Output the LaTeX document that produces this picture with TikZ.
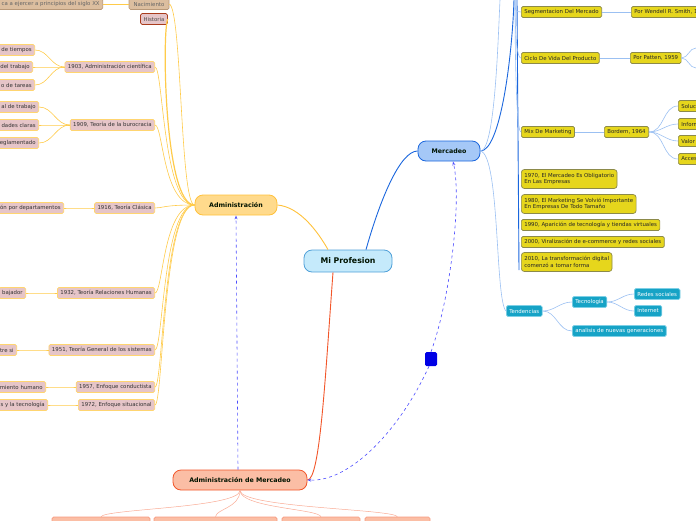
\documentclass[tikz,border=0pt]{standalone}
\usepackage{fontspec}
\setmainfont{DejaVu Sans}
\usetikzlibrary{arrows.meta,calc}
\definecolor{admF}{HTML}{FFDA8C}\definecolor{admD}{HTML}{FFC13A}
\definecolor{leafF}{HTML}{E6C5C8}\definecolor{leafD}{HTML}{FFD570}
\definecolor{nacF}{HTML}{DCBE9F}\definecolor{nacD}{HTML}{B89878}
\definecolor{merF}{HTML}{A5C8F7}\definecolor{merD}{HTML}{1A66DD}
\definecolor{ylF}{HTML}{E6D61C}\definecolor{ylD}{HTML}{8C8A4A}
\definecolor{tlF}{HTML}{16A3C6}\definecolor{tlD}{HTML}{7FD0E6}
\definecolor{saF}{HTML}{FBBEA5}\definecolor{saD}{HTML}{F2562A}
\definecolor{mpF}{HTML}{C5EAFB}\definecolor{mpD}{HTML}{4FA0D8}
\definecolor{lnY}{HTML}{FFCB4A}\definecolor{lnB}{HTML}{9BC0F2}
\tikzset{
 tx/.style={font=\fontsize{5.4}{6.4}\selectfont,inner xsep=3pt,inner ysep=0pt,minimum height=11pt,rounded corners=1.5pt,line width=0.7pt},
 leaf/.style={tx,fill=leafF,draw=leafD,text=black!80},
 nac/.style={tx,fill=nacF,draw=nacD,text=black!60},
 hist/.style={tx,fill=leafF,draw=saD!70!black,text=black!70},
 yb/.style={tx,fill=ylF,draw=ylD,text=black!85},
 yb2/.style={yb,align=left,minimum height=19pt,rounded corners=3pt},
 tl/.style={tx,fill=tlF,draw=tlD,text=white},
 big/.style={font=\bfseries\fontsize{6.3}{7.5}\selectfont,rounded corners=8pt,minimum height=20pt,line width=0.8pt,text=black!75!green!30!black},
 yl/.style={lnY,line width=0.6pt},
 bl/.style={lnB,line width=0.6pt},
 dsh/.style={blue!70,dashed,line width=0.6pt,-{Stealth[length=4pt,open]}},
}
\begin{document}
\begin{tikzpicture}[x=1pt,y=-1pt]
\useasboundingbox (0,0) rectangle (696,520);
\clip (0,0) rectangle (696,520);
\node[big,fill=mpF,draw=mpD,font=\bfseries\fontsize{7.8}{9}\selectfont,minimum width=88pt,minimum height=22pt] (mp) at (348,261) {Mi Profesion};
\node[big,fill=admF,draw=admD,minimum width=82pt] (adm) at (236,205) {Administración};
\node[big,fill=merF,draw=merD,minimum width=62pt] (mer) at (449,151) {Mercadeo};
\node[big,fill=saF,draw=saD,minimum width=134pt] (am) at (240,480) {Administración de Mercadeo};
\node[fill=blue!90!black,rounded corners=1.5pt,minimum width=12pt,minimum height=14pt,inner sep=0] (sq) at (431,359) {};
\node[nac,anchor=east] (nacl) at (103,4) {ca a ejercer a principios del siglo XX};
\node[nac,minimum width=40pt] (nac) at (149,4) {Nacimiento};
\node[hist] (his) at (154,19) {Historia};
\node[leaf,anchor=east] (h1) at (155,67) {1903, Administración científica};
\node[leaf,anchor=east] (h1a) at (35,50) {de tiempos};
\node[leaf,anchor=east] (h1b) at (33,67) {del trabajo};
\node[leaf,anchor=east] (h1c) at (35,85) {o de tareas};
\node[leaf,anchor=east] (h2) at (155,125) {1909, Teoría de la burocracia};
\node[leaf,anchor=east] (h2a) at (39,107) {al de trabajo};
\node[leaf,anchor=east] (h2b) at (39,125) {dades claras};
\node[leaf,anchor=east] (h2c) at (39,143) {eglamentado};
\node[leaf,anchor=east] (h3) at (155,208) {1916, Teoría Clásica};
\node[leaf,anchor=east] (h3a) at (64,208) {ón por departamentos};
\node[leaf,anchor=east] (h4) at (155,293) {1932, Teoría Relaciones Humanas};
\node[leaf,anchor=east] (h4a) at (26,293) {bajador};
\node[leaf,anchor=east] (h5) at (155,350) {1951, Teoría General de los sistemas};
\node[leaf,anchor=east] (h5a) at (17,350) {tre si};
\node[leaf,anchor=east] (h6) at (155,387) {1957, Enfoque conductista};
\node[leaf,anchor=east] (h6a) at (46,387) {miento humano};
\node[leaf,anchor=east] (h7) at (155,405) {1972, Enfoque situacional};
\node[leaf,anchor=east] (h7a) at (48,405) {s y la tecnología};
\draw[yl] (nacl) -- (nac);
\draw[yl] (adm.west) .. controls (180,205) and (182,10) .. (nac.east);
\draw[yl,line width=1.2pt] (adm.west) .. controls (164,205) and (162,30) .. (his.east);
\foreach \n in {h1,h2,h3,h4,h5,h6,h7}{
 \path (\n.east) ++(8,0) coordinate (t);
 \draw[yl] (adm.west) .. controls (163,205) and (t) .. (\n.east);}
\foreach \a/\b in {h1/h1a,h1/h1b,h1/h1c,h2/h2a,h2/h2b,h2/h2c,h3/h3a,h4/h4a,h5/h5a,h6/h6a,h7/h7a}{
 \draw[yl] (\a.west) to[out=180,in=0] (\b.east);}
\node[yb,anchor=west] (seg) at (521,12) {Segmentacion Del Mercado};
\node[yb,anchor=west] (segw) at (631,12) {Por Wendell R. Smith, 1956};
\node[yb,anchor=west] (cic) at (521,58) {Ciclo De Vida Del Producto};
\node[yb,anchor=west] (pat) at (630,58) {Por Patten, 1959};
\coordinate (pa1) at (696,48); \coordinate (pa2) at (696,68);
\node[yb,anchor=west] (mix) at (521,132) {Mix De Marketing};
\node[yb,anchor=west] (bor) at (604,132) {Bordem, 1964};
\node[yb,anchor=west] (b1) at (678,106) {Soluciones};
\node[yb,anchor=west] (b2) at (678,124) {Información};
\node[yb,anchor=west] (b3) at (678,141) {Valor};
\node[yb,anchor=west] (b4) at (678,159) {Acceso};
\node[yb2,anchor=west] (y70) at (521,179) {1970, El Mercadeo Es Obligatorio\\En Las Empresas};
\node[yb2,anchor=west] (y80) at (521,204) {1980, El Marketing Se Volvió Importante\\En Empresas De Todo Tamaño};
\node[yb,anchor=west] (y90) at (521,225) {1990, Aparición de tecnología y tiendas virtuales};
\node[yb,anchor=west] (y00) at (521,242) {2000, Viralización de e-commerce y redes sociales};
\node[yb2,anchor=west] (y10) at (521,262) {2010, La transformación digital\\comenzó a tomar forma};
\node[tl,anchor=west] (ten) at (506,311) {Tendencias};
\node[tl,anchor=west] (tec) at (572,302) {Tecnología};
\node[tl,anchor=west] (red) at (634,294) {Redes sociales};
\node[tl,anchor=west] (int) at (634,311) {Internet};
\node[tl,anchor=west] (ana) at (572,331) {analisis de nuevas generaciones};
\coordinate (top1) at (514,0); \coordinate (top2) at (500,0);
\draw[merD,line width=0.9pt] (mer.east) .. controls (500,151) and (512,60) .. (top1);
\draw[merD,line width=0.9pt] (517,0) -- (519,270);
\draw[bl] (mer.east) .. controls (495,151) and (498,40) .. (top2);
\foreach \n in {seg,cic,mix}{
 \path (\n.west) ++(-6,0) coordinate (t);
 \draw[bl] (515,0) .. controls (515,10) and (t) .. (\n.west);}
\draw[bl] (seg) -- (segw); \draw[bl] (cic) -- (pat); \draw[bl] (mix) -- (bor);
\draw[bl] (pat.east) to[out=0,in=180] (pa1); \draw[bl] (pat.east) to[out=0,in=180] (pa2);
\foreach \n in {b1,b2,b3,b4}{\draw[bl] (bor.east) to[out=0,in=180] (\n.west);}
\draw[bl] (mer.east) .. controls (500,155) and (495,300) .. (ten.west);
\draw[bl] (ten.east) to[out=0,in=180] (tec.west);
\draw[bl] (ten.east) to[out=0,in=180] (ana.west);
\draw[bl] (tec.east) to[out=0,in=180] (red.west);
\draw[bl] (tec.east) to[out=0,in=180] (int.west);
\draw[admD,line width=0.9pt] (adm.east) .. controls (300,207) and (318,232) .. ($(mp.north)+(-20,0)$);
\draw[merD,line width=0.9pt] ($(mp.north)+(18,0)$) .. controls (380,200) and (400,151) .. (mer.west);
\draw[saD,line width=0.9pt] ($(mp.south)+(-15,0)$) .. controls (325,380) and (320,480) .. (am.east);
\draw[dsh] ($(am.north)+(-2,0)$) -- (adm.south);
\draw[dsh] (sq.north) .. controls (450,300) and (462,200) .. ($(mer.south)+(4,0)$);
\draw[dsh] ($(sq.south)+(-2,0)$) .. controls (400,430) and (350,482) .. (am.east);
\foreach \n/\a/\b in {c1/52/150,c2/154/277,c3/282/360,c4/365/430}{
 \draw[fill=saF,draw=saD!60,line width=0.7pt,rounded corners=1.5pt] (\a,517) rectangle (\b,530);
 \coordinate (\n) at ({(\a+\b)/2},517);}
\foreach \n in {c1,c2,c3,c4}{\draw[saD!50,line width=0.5pt] (am.south) .. controls (240,508) and ($(\n)+(0,-8)$) .. (\n);}
\end{tikzpicture}
\end{document}
